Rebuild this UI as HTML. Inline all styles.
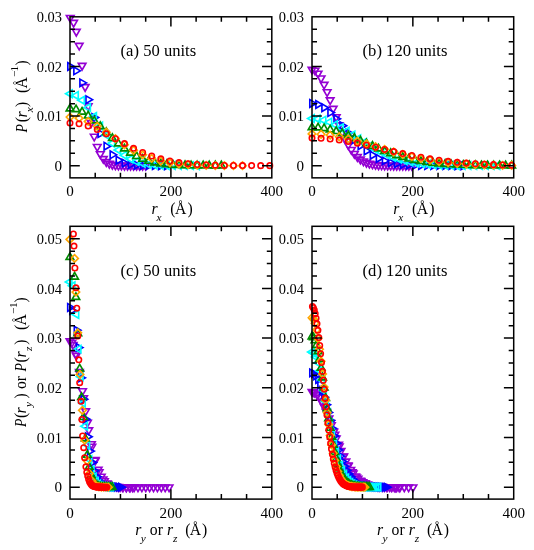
<!DOCTYPE html>
<html><head><meta charset="utf-8"><title>P(r) distributions</title>
<style>html,body{margin:0;padding:0;background:#fff}svg{display:block}</style></head>
<body>
<svg width="534" height="550" viewBox="0 0 534 550">
<rect width="534" height="550" fill="#fff"/>
<g fill="none" stroke="#9400d3" stroke-width="1.65" stroke-linejoin="miter"><polygon points="70.20,22.09 66.40,15.51 74.00,15.51"/><polygon points="73.60,26.99 69.80,20.41 77.40,20.41"/><polygon points="76.30,35.99 72.50,29.41 80.10,29.41"/><polygon points="79.20,49.89 75.40,43.31 83.00,43.31"/><polygon points="82.10,69.99 78.30,63.41 85.90,63.41"/><polygon points="85.14,91.28 81.34,84.69 88.94,84.69"/><polygon points="88.16,110.51 84.36,103.92 91.96,103.92"/><polygon points="91.19,127.27 87.39,120.69 94.99,120.69"/><polygon points="94.22,140.84 90.42,134.26 98.02,134.26"/><polygon points="97.24,151.10 93.44,144.51 101.04,144.51"/><polygon points="100.27,158.36 96.47,151.78 104.07,151.78"/><polygon points="103.30,163.19 99.50,156.61 107.10,156.61"/><polygon points="106.32,166.23 102.52,159.64 110.12,159.64"/><polygon points="109.35,168.02 105.55,161.44 113.15,161.44"/><polygon points="112.38,169.02 108.58,162.44 116.18,162.44"/><polygon points="115.41,169.55 111.61,162.97 119.20,162.97"/><polygon points="118.43,169.82 114.63,163.24 122.23,163.24"/><polygon points="121.46,169.94 117.66,163.36 125.26,163.36"/><polygon points="124.49,170.00 120.69,163.42 128.29,163.42"/><polygon points="127.51,170.02 123.71,163.44 131.31,163.44"/><polygon points="130.54,170.03 126.74,163.45 134.34,163.45"/><polygon points="133.57,170.04 129.77,163.45 137.37,163.45"/><polygon points="136.59,170.04 132.79,163.46 140.39,163.46"/><polygon points="139.62,170.04 135.82,163.46 143.42,163.46"/><polygon points="142.65,170.04 138.85,163.46 146.45,163.46"/><polygon points="145.68,170.04 141.88,163.46 149.48,163.46"/></g>
<g fill="none" stroke="#0000ff" stroke-width="1.65" stroke-linejoin="miter"><polygon points="74.39,66.45 67.81,62.65 67.81,70.25"/><polygon points="80.44,70.84 73.86,67.04 73.86,74.64"/><polygon points="86.50,82.87 79.91,79.07 79.91,86.67"/><polygon points="92.55,99.63 85.97,95.83 85.97,103.43"/><polygon points="98.60,117.55 92.02,113.75 92.02,121.35"/><polygon points="104.66,133.64 98.08,129.84 98.08,137.44"/><polygon points="110.71,146.19 104.13,142.39 104.13,149.99"/><polygon points="116.77,154.84 110.18,151.04 110.18,158.64"/><polygon points="122.82,160.17 116.24,156.37 116.24,163.97"/><polygon points="128.87,163.11 122.29,159.31 122.29,166.91"/><polygon points="134.93,164.57 128.35,160.77 128.35,168.37"/><polygon points="140.98,165.23 134.40,161.43 134.40,169.03"/><polygon points="147.04,165.50 140.45,161.70 140.45,169.30"/><polygon points="153.09,165.60 146.51,161.80 146.51,169.40"/><polygon points="159.14,165.64 152.56,161.84 152.56,169.44"/><polygon points="165.20,165.65 158.62,161.85 158.62,169.45"/><polygon points="171.25,165.65 164.67,161.85 164.67,169.45"/></g>
<g fill="none" stroke="#00ffff" stroke-width="1.65" stroke-linejoin="miter"><polygon points="65.61,93.73 72.19,89.93 72.19,97.53"/><polygon points="71.67,95.42 78.25,91.62 78.25,99.22"/><polygon points="77.72,100.26 84.30,96.46 84.30,104.06"/><polygon points="83.77,107.59 90.36,103.79 90.36,111.39"/><polygon points="89.83,116.49 96.41,112.69 96.41,120.29"/><polygon points="95.88,125.96 102.46,122.16 102.46,129.76"/><polygon points="101.94,135.10 108.52,131.30 108.52,138.90"/><polygon points="107.99,143.22 114.57,139.42 114.57,147.02"/><polygon points="114.04,149.95 120.63,146.15 120.63,153.75"/><polygon points="120.10,155.17 126.68,151.37 126.68,158.97"/><polygon points="126.15,158.98 132.73,155.18 132.73,162.78"/><polygon points="132.21,161.60 138.79,157.80 138.79,165.40"/><polygon points="138.26,163.31 144.84,159.51 144.84,167.11"/><polygon points="144.31,164.36 150.90,160.56 150.90,168.16"/><polygon points="150.37,164.97 156.95,161.17 156.95,168.77"/><polygon points="156.42,165.31 163.00,161.51 163.00,169.11"/><polygon points="162.48,165.49 169.06,161.69 169.06,169.29"/><polygon points="168.53,165.58 175.11,161.78 175.11,169.38"/><polygon points="174.58,165.62 181.17,161.82 181.17,169.42"/><polygon points="180.64,165.64 187.22,161.84 187.22,169.44"/><polygon points="186.69,165.64 193.27,161.84 193.27,169.44"/><polygon points="192.75,165.65 199.33,161.85 199.33,169.45"/></g>
<g fill="none" stroke="#008b00" stroke-width="1.65" stroke-linejoin="miter"><polygon points="70.00,104.22 66.20,110.80 73.80,110.80"/><polygon points="76.05,105.07 72.25,111.65 79.85,111.65"/><polygon points="82.11,107.53 78.31,114.12 85.91,114.12"/><polygon points="88.16,111.41 84.36,117.99 91.96,117.99"/><polygon points="94.22,116.36 90.42,122.94 98.02,122.94"/><polygon points="100.27,122.02 96.47,128.60 104.07,128.60"/><polygon points="106.32,127.97 102.52,134.55 110.12,134.55"/><polygon points="112.38,133.85 108.58,140.44 116.18,140.44"/><polygon points="118.43,139.36 114.63,145.94 122.23,145.94"/><polygon points="124.49,144.28 120.69,150.86 128.29,150.86"/><polygon points="130.54,148.48 126.74,155.06 134.34,155.06"/><polygon points="136.59,151.93 132.79,158.51 140.39,158.51"/><polygon points="142.65,154.64 138.85,161.23 146.45,161.23"/><polygon points="148.70,156.71 144.90,163.29 152.50,163.29"/><polygon points="154.76,158.22 150.96,164.80 158.56,164.80"/><polygon points="160.81,159.29 157.01,165.87 164.61,165.87"/><polygon points="166.86,160.02 163.06,166.60 170.66,166.60"/><polygon points="172.92,160.51 169.12,167.09 176.72,167.09"/><polygon points="178.97,160.81 175.17,167.40 182.77,167.40"/><polygon points="185.03,161.00 181.23,167.59 188.83,167.59"/><polygon points="191.08,161.12 187.28,167.70 194.88,167.70"/><polygon points="197.13,161.18 193.33,167.77 200.93,167.77"/><polygon points="203.19,161.22 199.39,167.80 206.99,167.80"/><polygon points="209.24,161.24 205.44,167.82 213.04,167.82"/><polygon points="215.30,161.25 211.50,167.83 219.10,167.83"/><polygon points="221.35,161.26 217.55,167.84 225.15,167.84"/></g>
<g fill="none" stroke="#ffa500" stroke-width="1.65" stroke-linejoin="miter"><polygon points="66.28,117.04 70.00,113.32 73.72,117.04 70.00,120.77"/><polygon points="75.36,118.17 79.08,114.45 82.81,118.17 79.08,121.89"/><polygon points="84.44,121.40 88.16,117.67 91.89,121.40 88.16,125.12"/><polygon points="93.52,126.29 97.24,122.57 100.97,126.29 97.24,130.02"/><polygon points="102.60,132.25 106.32,128.53 110.05,132.25 106.32,135.98"/><polygon points="111.68,138.61 115.41,134.89 119.13,138.61 115.41,142.33"/><polygon points="120.76,144.76 124.49,141.04 128.21,144.76 124.49,148.48"/><polygon points="129.84,150.25 133.57,146.53 137.29,150.25 133.57,153.98"/><polygon points="138.92,154.82 142.65,151.10 146.37,154.82 142.65,158.54"/><polygon points="148.01,158.38 151.73,154.66 155.45,158.38 151.73,162.11"/><polygon points="157.09,161.00 160.81,157.27 164.53,161.00 160.81,164.72"/><polygon points="166.17,162.81 169.89,159.08 173.62,162.81 169.89,166.53"/><polygon points="175.25,163.99 178.97,160.27 182.70,163.99 178.97,167.72"/><polygon points="184.33,164.73 188.05,161.00 191.78,164.73 188.05,168.45"/><polygon points="193.41,165.16 197.13,161.44 200.86,165.16 197.13,168.88"/><polygon points="202.49,165.40 206.22,161.68 209.94,165.40 206.22,169.13"/><polygon points="211.57,165.53 215.30,161.81 219.02,165.53 215.30,169.25"/><polygon points="220.65,165.59 224.38,161.87 228.10,165.59 224.38,169.32"/><polygon points="229.73,165.63 233.46,161.90 237.18,165.63 233.46,169.35"/><polygon points="238.82,165.64 242.54,161.92 246.26,165.64 242.54,169.36"/></g>
<g fill="none" stroke="#ff0000" stroke-width="1.65" stroke-linejoin="miter"><circle cx="70.00" cy="122.99" r="2.72" stroke-width="1.6"/><circle cx="79.08" cy="123.77" r="2.72" stroke-width="1.6"/><circle cx="88.16" cy="126.02" r="2.72" stroke-width="1.6"/><circle cx="97.24" cy="129.50" r="2.72" stroke-width="1.6"/><circle cx="106.32" cy="133.86" r="2.72" stroke-width="1.6"/><circle cx="115.41" cy="138.70" r="2.72" stroke-width="1.6"/><circle cx="124.49" cy="143.63" r="2.72" stroke-width="1.6"/><circle cx="133.57" cy="148.31" r="2.72" stroke-width="1.6"/><circle cx="142.65" cy="152.49" r="2.72" stroke-width="1.6"/><circle cx="151.73" cy="156.02" r="2.72" stroke-width="1.6"/><circle cx="160.81" cy="158.86" r="2.72" stroke-width="1.6"/><circle cx="169.89" cy="161.03" r="2.72" stroke-width="1.6"/><circle cx="178.97" cy="162.62" r="2.72" stroke-width="1.6"/><circle cx="188.05" cy="163.74" r="2.72" stroke-width="1.6"/><circle cx="197.13" cy="164.49" r="2.72" stroke-width="1.6"/><circle cx="206.22" cy="164.97" r="2.72" stroke-width="1.6"/><circle cx="215.30" cy="165.26" r="2.72" stroke-width="1.6"/><circle cx="224.38" cy="165.44" r="2.72" stroke-width="1.6"/><circle cx="233.46" cy="165.54" r="2.72" stroke-width="1.6"/><circle cx="242.54" cy="165.59" r="2.72" stroke-width="1.6"/><circle cx="251.62" cy="165.62" r="2.72" stroke-width="1.6"/><circle cx="260.70" cy="165.64" r="2.72" stroke-width="1.6"/><circle cx="269.78" cy="165.64" r="2.72" stroke-width="1.6"/></g>
<path d="M95.22,177.85v-5.0M95.22,16.80v5.0M120.45,177.85v-5.0M120.45,16.80v5.0M145.68,177.85v-5.0M145.68,16.80v5.0M170.90,177.85v-9.8M170.90,16.80v9.8M196.12,177.85v-5.0M196.12,16.80v5.0M221.35,177.85v-5.0M221.35,16.80v5.0M246.58,177.85v-5.0M246.58,16.80v5.0M70.00,165.65h9.8M271.80,165.65h-9.8M70.00,153.25h5.0M271.80,153.25h-5.0M70.00,140.85h5.0M271.80,140.85h-5.0M70.00,128.45h5.0M271.80,128.45h-5.0M70.00,116.05h9.8M271.80,116.05h-9.8M70.00,103.65h5.0M271.80,103.65h-5.0M70.00,91.25h5.0M271.80,91.25h-5.0M70.00,78.85h5.0M271.80,78.85h-5.0M70.00,66.45h9.8M271.80,66.45h-9.8M70.00,54.05h5.0M271.80,54.05h-5.0M70.00,41.65h5.0M271.80,41.65h-5.0M70.00,29.25h5.0M271.80,29.25h-5.0" stroke="#000" stroke-width="1.5" fill="none"/>
<rect x="70.00" y="16.80" width="201.80" height="161.05" fill="none" stroke="#000" stroke-width="1.5"/>
<g font-family="'Liberation Serif', serif" font-size="15.1" fill="#000">
<text x="70.00" y="196.25" text-anchor="middle">0</text>
<text x="170.90" y="196.25" text-anchor="middle">200</text>
<text x="271.80" y="196.25" text-anchor="middle">400</text>
<text x="62.00" y="170.95" text-anchor="end">0</text>
<text x="62.00" y="121.35" text-anchor="end" textLength="25.3" lengthAdjust="spacingAndGlyphs">0.01</text>
<text x="62.00" y="71.75" text-anchor="end" textLength="25.3" lengthAdjust="spacingAndGlyphs">0.02</text>
<text x="62.00" y="22.15" text-anchor="end" textLength="25.3" lengthAdjust="spacingAndGlyphs">0.03</text>
</g>
<g fill="none" stroke="#9400d3" stroke-width="1.65" stroke-linejoin="miter"><polygon points="312.00,73.81 308.20,67.23 315.80,67.23"/><polygon points="315.03,74.83 311.23,68.25 318.83,68.25"/><polygon points="318.05,77.82 314.25,71.24 321.85,71.24"/><polygon points="321.08,82.60 317.28,76.02 324.88,76.02"/><polygon points="324.10,88.88 320.30,82.30 327.90,82.30"/><polygon points="327.13,96.29 323.33,89.71 330.93,89.71"/><polygon points="330.15,104.44 326.35,97.86 333.95,97.86"/><polygon points="333.18,112.91 329.38,106.33 336.98,106.33"/><polygon points="336.20,121.34 332.40,114.76 340.00,114.76"/><polygon points="339.23,129.40 335.43,122.82 343.03,122.82"/><polygon points="342.25,136.84 338.45,130.26 346.06,130.26"/><polygon points="345.28,143.49 341.48,136.90 349.08,136.90"/><polygon points="348.31,149.25 344.51,142.67 352.11,142.67"/><polygon points="351.33,154.11 347.53,147.52 355.13,147.52"/><polygon points="354.36,158.08 350.56,151.50 358.16,151.50"/><polygon points="357.38,161.26 353.58,154.68 361.18,154.68"/><polygon points="360.41,163.73 356.61,157.14 364.21,157.14"/><polygon points="363.43,165.59 359.63,159.01 367.23,159.01"/><polygon points="366.46,166.98 362.66,160.39 370.26,160.39"/><polygon points="369.48,167.97 365.68,161.39 373.28,161.39"/><polygon points="372.51,168.67 368.71,162.09 376.31,162.09"/><polygon points="375.54,169.16 371.74,162.57 379.34,162.57"/><polygon points="378.56,169.48 374.76,162.90 382.36,162.90"/><polygon points="381.59,169.69 377.79,163.11 385.39,163.11"/><polygon points="384.61,169.83 380.81,163.25 388.41,163.25"/><polygon points="387.64,169.91 383.84,163.33 391.44,163.33"/><polygon points="390.66,169.97 386.86,163.38 394.46,163.38"/><polygon points="393.69,170.00 389.89,163.41 397.49,163.41"/><polygon points="396.71,170.01 392.91,163.43 400.51,163.43"/><polygon points="399.74,170.03 395.94,163.44 403.54,163.44"/><polygon points="402.76,170.03 398.96,163.45 406.56,163.45"/><polygon points="405.79,170.03 401.99,163.45 409.59,163.45"/><polygon points="408.82,170.04 405.02,163.45 412.62,163.45"/><polygon points="411.84,170.04 408.04,163.46 415.64,163.46"/></g>
<g fill="none" stroke="#0000ff" stroke-width="1.65" stroke-linejoin="miter"><polygon points="316.39,103.40 309.81,99.60 309.81,107.20"/><polygon points="322.44,104.50 315.86,100.70 315.86,108.30"/><polygon points="328.49,107.68 321.91,103.88 321.91,111.48"/><polygon points="334.54,112.62 327.96,108.82 327.96,116.42"/><polygon points="340.59,118.84 334.01,115.04 334.01,122.64"/><polygon points="346.64,125.77 340.06,121.97 340.06,129.57"/><polygon points="352.69,132.87 346.11,129.07 346.11,136.67"/><polygon points="358.74,139.65 352.16,135.85 352.16,143.45"/><polygon points="364.80,145.74 358.21,141.94 358.21,149.54"/><polygon points="370.85,150.94 364.27,147.14 364.27,154.74"/><polygon points="376.90,155.17 370.32,151.37 370.32,158.97"/><polygon points="382.95,158.44 376.37,154.64 376.37,162.24"/><polygon points="389.00,160.86 382.42,157.06 382.42,164.66"/><polygon points="395.05,162.58 388.47,158.78 388.47,166.38"/><polygon points="401.10,163.75 394.52,159.95 394.52,167.55"/><polygon points="407.15,164.52 400.57,160.72 400.57,168.32"/><polygon points="413.20,165.00 406.62,161.20 406.62,168.80"/><polygon points="419.25,165.29 412.67,161.49 412.67,169.09"/><polygon points="425.31,165.46 418.72,161.66 418.72,169.26"/><polygon points="431.36,165.55 424.78,161.75 424.78,169.35"/><polygon points="437.41,165.60 430.83,161.80 430.83,169.40"/><polygon points="443.46,165.63 436.88,161.83 436.88,169.43"/><polygon points="449.51,165.64 442.93,161.84 442.93,169.44"/><polygon points="455.56,165.64 448.98,161.84 448.98,169.44"/><polygon points="461.61,165.65 455.03,161.85 455.03,169.45"/><polygon points="467.66,165.65 461.08,161.85 461.08,169.45"/></g>
<g fill="none" stroke="#00ffff" stroke-width="1.65" stroke-linejoin="miter"><polygon points="307.61,118.53 314.19,114.73 314.19,122.33"/><polygon points="313.41,118.94 319.99,115.14 319.99,122.74"/><polygon points="319.21,120.16 325.79,116.36 325.79,123.96"/><polygon points="325.01,122.12 331.59,118.32 331.59,125.92"/><polygon points="330.81,124.72 337.39,120.92 337.39,128.52"/><polygon points="336.61,127.83 343.19,124.03 343.19,131.63"/><polygon points="342.41,131.32 348.99,127.52 348.99,135.12"/><polygon points="348.20,135.03 354.79,131.23 354.79,138.83"/><polygon points="354.00,138.82 360.58,135.02 360.58,142.62"/><polygon points="359.80,142.54 366.38,138.74 366.38,146.34"/><polygon points="365.60,146.10 372.18,142.30 372.18,149.90"/><polygon points="371.40,149.40 377.98,145.60 377.98,153.20"/><polygon points="377.20,152.37 383.78,148.57 383.78,156.17"/><polygon points="383.00,155.00 389.58,151.20 389.58,158.80"/><polygon points="388.80,157.25 395.38,153.45 395.38,161.05"/><polygon points="394.60,159.14 401.18,155.34 401.18,162.94"/><polygon points="400.39,160.69 406.98,156.89 406.98,164.49"/><polygon points="406.19,161.94 412.77,158.14 412.77,165.74"/><polygon points="411.99,162.92 418.57,159.12 418.57,166.72"/><polygon points="417.79,163.68 424.37,159.88 424.37,167.48"/><polygon points="423.59,164.25 430.17,160.45 430.17,168.05"/><polygon points="429.39,164.68 435.97,160.88 435.97,168.48"/><polygon points="435.19,164.98 441.77,161.18 441.77,168.78"/><polygon points="440.99,165.20 447.57,161.40 447.57,169.00"/><polygon points="446.79,165.35 453.37,161.55 453.37,169.15"/><polygon points="452.58,165.46 459.17,161.66 459.17,169.26"/><polygon points="458.38,165.53 464.96,161.73 464.96,169.33"/><polygon points="464.18,165.57 470.76,161.77 470.76,169.37"/><polygon points="469.98,165.60 476.56,161.80 476.56,169.40"/><polygon points="475.78,165.62 482.36,161.82 482.36,169.42"/><polygon points="481.58,165.63 488.16,161.83 488.16,169.43"/><polygon points="487.38,165.64 493.96,161.84 493.96,169.44"/><polygon points="493.18,165.64 499.76,161.84 499.76,169.44"/></g>
<g fill="none" stroke="#008b00" stroke-width="1.65" stroke-linejoin="miter"><polygon points="312.00,123.07 308.20,129.65 315.80,129.65"/><polygon points="318.05,123.33 314.25,129.91 321.85,129.91"/><polygon points="324.10,124.08 320.30,130.66 327.90,130.66"/><polygon points="330.15,125.31 326.35,131.89 333.95,131.89"/><polygon points="336.20,126.96 332.40,133.54 340.00,133.54"/><polygon points="342.25,128.96 338.45,135.55 346.06,135.55"/><polygon points="348.31,131.26 344.51,137.84 352.11,137.84"/><polygon points="354.36,133.77 350.56,140.35 358.16,140.35"/><polygon points="360.41,136.40 356.61,142.98 364.21,142.98"/><polygon points="366.46,139.08 362.66,145.66 370.26,145.66"/><polygon points="372.51,141.73 368.71,148.31 376.31,148.31"/><polygon points="378.56,144.30 374.76,150.88 382.36,150.88"/><polygon points="384.61,146.72 380.81,153.30 388.41,153.30"/><polygon points="390.66,148.96 386.86,155.55 394.46,155.55"/><polygon points="396.71,151.00 392.91,157.58 400.51,157.58"/><polygon points="402.76,152.81 398.96,159.40 406.56,159.40"/><polygon points="408.82,154.40 405.02,160.98 412.62,160.98"/><polygon points="414.87,155.76 411.07,162.34 418.67,162.34"/><polygon points="420.92,156.91 417.12,163.49 424.72,163.49"/><polygon points="426.97,157.87 423.17,164.45 430.77,164.45"/><polygon points="433.02,158.65 429.22,165.23 436.82,165.23"/><polygon points="439.07,159.28 435.27,165.86 442.87,165.86"/><polygon points="445.12,159.77 441.32,166.36 448.92,166.36"/><polygon points="451.17,160.16 447.37,166.74 454.97,166.74"/><polygon points="457.22,160.46 453.42,167.04 461.02,167.04"/><polygon points="463.28,160.68 459.48,167.27 467.08,167.27"/><polygon points="469.33,160.85 465.53,167.43 473.13,167.43"/><polygon points="475.38,160.97 471.58,167.56 479.18,167.56"/><polygon points="481.43,161.06 477.63,167.64 485.23,167.64"/><polygon points="487.48,161.13 483.68,167.71 491.28,167.71"/><polygon points="493.53,161.17 489.73,167.75 497.33,167.75"/><polygon points="499.58,161.20 495.78,167.78 503.38,167.78"/><polygon points="505.63,161.22 501.83,167.80 509.43,167.80"/><polygon points="511.68,161.24 507.88,167.82 515.48,167.82"/></g>
<g fill="none" stroke="#ffa500" stroke-width="1.65" stroke-linejoin="miter"><polygon points="308.28,133.91 312.00,130.18 315.72,133.91 312.00,137.63"/><polygon points="317.35,134.24 321.08,130.51 324.80,134.24 321.08,137.96"/><polygon points="326.43,135.20 330.15,131.48 333.88,135.20 330.15,138.93"/><polygon points="335.51,136.75 339.23,133.02 342.95,136.75 339.23,140.47"/><polygon points="344.58,138.78 348.31,135.06 352.03,138.78 348.31,142.51"/><polygon points="353.66,141.19 357.38,137.46 361.11,141.19 357.38,144.91"/><polygon points="362.74,143.84 366.46,140.11 370.18,143.84 366.46,147.56"/><polygon points="371.81,146.60 375.54,142.88 379.26,146.60 375.54,150.33"/><polygon points="380.89,149.36 384.61,145.63 388.34,149.36 384.61,153.08"/><polygon points="389.96,152.00 393.69,148.28 397.41,152.00 393.69,155.73"/><polygon points="399.04,154.46 402.76,150.73 406.49,154.46 402.76,158.18"/><polygon points="408.12,156.66 411.84,152.93 415.57,156.66 411.84,160.38"/><polygon points="417.19,158.57 420.92,154.85 424.64,158.57 420.92,162.30"/><polygon points="426.27,160.20 429.99,156.47 433.72,160.20 429.99,163.92"/><polygon points="435.35,161.53 439.07,157.81 442.80,161.53 439.07,165.26"/><polygon points="444.42,162.61 448.15,158.88 451.87,162.61 448.15,166.33"/><polygon points="453.50,163.45 457.22,159.72 460.95,163.45 457.22,167.17"/><polygon points="462.58,164.09 466.30,160.36 470.02,164.09 466.30,167.81"/><polygon points="471.65,164.57 475.38,160.84 479.10,164.57 475.38,168.29"/><polygon points="480.73,164.91 484.45,161.19 488.18,164.91 484.45,168.64"/><polygon points="489.81,165.16 493.53,161.44 497.25,165.16 493.53,168.88"/><polygon points="498.88,165.33 502.61,161.61 506.33,165.33 502.61,169.05"/><polygon points="507.96,165.45 511.68,161.72 515.41,165.45 511.68,169.17"/></g>
<g fill="none" stroke="#ff0000" stroke-width="1.65" stroke-linejoin="miter"><circle cx="312.00" cy="138.12" r="2.72" stroke-width="1.6"/><circle cx="321.08" cy="138.35" r="2.72" stroke-width="1.6"/><circle cx="330.15" cy="139.02" r="2.72" stroke-width="1.6"/><circle cx="339.23" cy="140.10" r="2.72" stroke-width="1.6"/><circle cx="348.31" cy="141.53" r="2.72" stroke-width="1.6"/><circle cx="357.38" cy="143.26" r="2.72" stroke-width="1.6"/><circle cx="366.46" cy="145.21" r="2.72" stroke-width="1.6"/><circle cx="375.54" cy="147.29" r="2.72" stroke-width="1.6"/><circle cx="384.61" cy="149.43" r="2.72" stroke-width="1.6"/><circle cx="393.69" cy="151.56" r="2.72" stroke-width="1.6"/><circle cx="402.76" cy="153.60" r="2.72" stroke-width="1.6"/><circle cx="411.84" cy="155.52" r="2.72" stroke-width="1.6"/><circle cx="420.92" cy="157.28" r="2.72" stroke-width="1.6"/><circle cx="429.99" cy="158.84" r="2.72" stroke-width="1.6"/><circle cx="439.07" cy="160.20" r="2.72" stroke-width="1.6"/><circle cx="448.15" cy="161.36" r="2.72" stroke-width="1.6"/><circle cx="457.22" cy="162.33" r="2.72" stroke-width="1.6"/><circle cx="466.30" cy="163.12" r="2.72" stroke-width="1.6"/><circle cx="475.38" cy="163.76" r="2.72" stroke-width="1.6"/><circle cx="484.45" cy="164.26" r="2.72" stroke-width="1.6"/><circle cx="493.53" cy="164.64" r="2.72" stroke-width="1.6"/><circle cx="502.61" cy="164.93" r="2.72" stroke-width="1.6"/><circle cx="511.68" cy="165.15" r="2.72" stroke-width="1.6"/></g>
<path d="M337.21,177.85v-5.0M337.21,16.80v5.0M362.43,177.85v-5.0M362.43,16.80v5.0M387.64,177.85v-5.0M387.64,16.80v5.0M412.85,177.85v-9.8M412.85,16.80v9.8M438.06,177.85v-5.0M438.06,16.80v5.0M463.28,177.85v-5.0M463.28,16.80v5.0M488.49,177.85v-5.0M488.49,16.80v5.0M312.00,165.65h9.8M513.70,165.65h-9.8M312.00,153.25h5.0M513.70,153.25h-5.0M312.00,140.85h5.0M513.70,140.85h-5.0M312.00,128.45h5.0M513.70,128.45h-5.0M312.00,116.05h9.8M513.70,116.05h-9.8M312.00,103.65h5.0M513.70,103.65h-5.0M312.00,91.25h5.0M513.70,91.25h-5.0M312.00,78.85h5.0M513.70,78.85h-5.0M312.00,66.45h9.8M513.70,66.45h-9.8M312.00,54.05h5.0M513.70,54.05h-5.0M312.00,41.65h5.0M513.70,41.65h-5.0M312.00,29.25h5.0M513.70,29.25h-5.0" stroke="#000" stroke-width="1.5" fill="none"/>
<rect x="312.00" y="16.80" width="201.70" height="161.05" fill="none" stroke="#000" stroke-width="1.5"/>
<g font-family="'Liberation Serif', serif" font-size="15.1" fill="#000">
<text x="312.00" y="196.25" text-anchor="middle">0</text>
<text x="412.85" y="196.25" text-anchor="middle">200</text>
<text x="513.70" y="196.25" text-anchor="middle">400</text>
<text x="304.00" y="170.95" text-anchor="end">0</text>
<text x="304.00" y="121.35" text-anchor="end" textLength="25.3" lengthAdjust="spacingAndGlyphs">0.01</text>
<text x="304.00" y="71.75" text-anchor="end" textLength="25.3" lengthAdjust="spacingAndGlyphs">0.02</text>
<text x="304.00" y="22.15" text-anchor="end" textLength="25.3" lengthAdjust="spacingAndGlyphs">0.03</text>
</g>
<g fill="none" stroke="#9400d3" stroke-width="1.65" stroke-linejoin="miter"><polygon points="71.94,346.94 68.14,340.36 75.74,340.36"/><polygon points="75.83,358.12 72.03,351.54 79.63,351.54"/><polygon points="79.71,377.96 75.91,371.38 83.51,371.38"/><polygon points="83.60,402.33 79.80,395.75 87.40,395.75"/><polygon points="87.48,426.89 83.68,420.31 91.28,420.31"/><polygon points="91.37,448.31 87.57,441.73 95.17,441.73"/><polygon points="95.25,464.87 91.45,458.29 99.05,458.29"/><polygon points="99.13,476.36 95.33,469.78 102.93,469.78"/><polygon points="103.02,483.57 99.22,476.98 106.82,476.98"/><polygon points="106.90,487.67 103.10,481.09 110.70,481.09"/><polygon points="110.79,489.81 106.99,483.23 114.59,483.23"/><polygon points="114.67,490.83 110.87,484.24 118.47,484.24"/><polygon points="118.56,491.27 114.76,484.68 122.36,484.68"/><polygon points="122.44,491.44 118.64,484.86 126.24,484.86"/><polygon points="126.33,491.51 122.53,484.93 130.13,484.93"/><polygon points="130.21,491.53 126.41,484.95 134.01,484.95"/><polygon points="134.10,491.54 130.30,484.95 137.90,484.95"/><polygon points="137.98,491.54 134.18,484.96 141.78,484.96"/><polygon points="141.87,491.54 138.07,484.96 145.67,484.96"/><polygon points="145.75,491.54 141.95,484.96 149.55,484.96"/><polygon points="149.64,491.54 145.84,484.96 153.44,484.96"/><polygon points="153.52,491.54 149.72,484.96 157.32,484.96"/><polygon points="157.40,491.54 153.60,484.96 161.20,484.96"/><polygon points="161.29,491.54 157.49,484.96 165.09,484.96"/><polygon points="165.17,491.54 161.37,484.96 168.97,484.96"/><polygon points="169.06,491.54 165.26,484.96 172.86,484.96"/></g>
<g fill="none" stroke="#9400d3" stroke-width="1.65" stroke-linejoin="miter"><polygon points="70.00,345.48 66.20,338.90 73.80,338.90"/><polygon points="73.13,349.24 69.33,342.66 76.93,342.66"/><polygon points="76.26,359.96 72.46,353.37 80.06,353.37"/><polygon points="79.38,376.05 75.58,369.47 83.18,369.47"/><polygon points="82.51,395.33 78.71,388.75 86.31,388.75"/><polygon points="85.64,415.47 81.84,408.89 89.44,408.89"/><polygon points="88.77,434.45 84.97,427.87 92.57,427.87"/><polygon points="91.90,450.87 88.10,444.29 95.70,444.29"/><polygon points="95.02,464.05 91.22,457.46 98.82,457.46"/><polygon points="98.15,473.90 94.35,467.31 101.95,467.31"/><polygon points="101.28,480.79 97.48,474.21 105.08,474.21"/><polygon points="104.41,485.33 100.61,478.74 108.21,478.74"/><polygon points="107.53,488.13 103.73,481.55 111.33,481.55"/><polygon points="110.66,489.76 106.86,483.18 114.46,483.18"/><polygon points="113.79,490.66 109.99,484.08 117.59,484.08"/><polygon points="116.92,491.13 113.12,484.54 120.72,484.54"/><polygon points="120.05,491.35 116.25,484.77 123.85,484.77"/><polygon points="123.17,491.46 119.37,484.88 126.97,484.88"/><polygon points="126.30,491.51 122.50,484.92 130.10,484.92"/><polygon points="129.43,491.53 125.63,484.94 133.23,484.94"/><polygon points="132.56,491.53 128.76,484.95 136.36,484.95"/></g>
<g fill="none" stroke="#0000ff" stroke-width="1.65" stroke-linejoin="miter"><polygon points="74.29,307.40 67.71,303.60 67.71,311.20"/><polygon points="76.39,310.50 69.81,306.70 69.81,314.30"/><polygon points="80.89,330.30 74.31,326.50 74.31,334.10"/><polygon points="82.99,347.60 76.41,343.80 76.41,351.40"/><polygon points="85.49,377.87 78.91,374.07 78.91,381.67"/><polygon points="87.71,399.27 81.12,395.47 81.12,403.07"/><polygon points="89.93,419.23 83.34,415.43 83.34,423.03"/><polygon points="92.15,436.69 85.56,432.89 85.56,440.49"/><polygon points="94.37,451.12 87.78,447.32 87.78,454.92"/><polygon points="96.59,462.43 90.00,458.63 90.00,466.23"/><polygon points="98.81,470.84 92.22,467.04 92.22,474.64"/><polygon points="101.03,476.81 94.44,473.01 94.44,480.61"/><polygon points="103.25,480.85 96.66,477.05 96.66,484.65"/><polygon points="105.47,483.46 98.88,479.66 98.88,487.26"/><polygon points="107.68,485.07 101.10,481.27 101.10,488.87"/><polygon points="109.90,486.03 103.32,482.23 103.32,489.83"/><polygon points="112.12,486.57 105.54,482.77 105.54,490.37"/><polygon points="114.34,486.86 107.76,483.06 107.76,490.66"/><polygon points="116.56,487.01 109.98,483.21 109.98,490.81"/><polygon points="118.78,487.09 112.20,483.29 112.20,490.89"/><polygon points="121.00,487.12 114.42,483.32 114.42,490.92"/><polygon points="123.22,487.14 116.64,483.34 116.64,490.94"/><polygon points="125.44,487.14 118.86,483.34 118.86,490.94"/></g>
<g fill="none" stroke="#00ffff" stroke-width="1.65" stroke-linejoin="miter"><polygon points="65.31,282.00 71.89,278.20 71.89,285.80"/><polygon points="68.31,285.80 74.89,282.00 74.89,289.60"/><polygon points="72.11,314.40 78.69,310.60 78.69,318.20"/><polygon points="74.29,349.11 80.87,345.31 80.87,352.91"/><polygon points="76.46,376.69 83.04,372.89 83.04,380.49"/><polygon points="78.63,403.04 85.21,399.24 85.21,406.84"/><polygon points="80.80,426.19 87.38,422.39 87.38,429.99"/><polygon points="82.97,445.11 89.55,441.31 89.55,448.91"/><polygon points="85.14,459.56 91.72,455.76 91.72,463.36"/><polygon points="87.31,469.92 93.89,466.12 93.89,473.72"/><polygon points="89.47,476.91 96.06,473.11 96.06,480.71"/><polygon points="91.64,481.36 98.23,477.56 98.23,485.16"/><polygon points="93.81,484.03 100.40,480.23 100.40,487.83"/><polygon points="95.98,485.55 102.56,481.75 102.56,489.35"/><polygon points="98.15,486.37 104.73,482.57 104.73,490.17"/><polygon points="100.32,486.79 106.90,482.99 106.90,490.59"/><polygon points="102.49,486.99 109.07,483.19 109.07,490.79"/><polygon points="104.66,487.08 111.24,483.28 111.24,490.88"/><polygon points="106.83,487.12 113.41,483.32 113.41,490.92"/></g>
<g fill="none" stroke="#008b00" stroke-width="1.65" stroke-linejoin="miter"><polygon points="69.90,252.81 66.10,259.39 73.70,259.39"/><polygon points="74.60,272.51 70.80,279.09 78.40,279.09"/><polygon points="75.90,292.81 72.10,299.39 79.70,299.39"/><polygon points="77.80,329.01 74.00,335.59 81.60,335.59"/><polygon points="79.70,364.31 75.90,370.89 83.50,370.89"/><polygon points="81.60,392.91 77.80,399.49 85.40,399.49"/><polygon points="83.42,412.88 79.62,419.46 87.22,419.46"/><polygon points="85.34,434.23 81.54,440.81 89.14,440.81"/><polygon points="87.25,450.66 83.45,457.24 91.05,457.24"/><polygon points="89.17,462.54 85.37,469.12 92.97,469.12"/><polygon points="91.09,470.62 87.29,477.20 94.89,477.20"/><polygon points="93.01,475.82 89.21,482.40 96.81,482.40"/><polygon points="94.92,478.98 91.12,485.56 98.72,485.56"/><polygon points="96.84,480.80 93.04,487.38 100.64,487.38"/><polygon points="98.76,481.79 94.96,488.38 102.56,488.38"/><polygon points="100.67,482.31 96.87,488.89 104.47,488.89"/><polygon points="102.59,482.56 98.79,489.14 106.39,489.14"/><polygon points="104.51,482.67 100.71,489.26 108.31,489.26"/><polygon points="106.42,482.73 102.62,489.31 110.22,489.31"/><polygon points="108.34,482.75 104.54,489.33 112.14,489.33"/><polygon points="110.26,482.76 106.46,489.34 114.06,489.34"/><polygon points="112.18,482.76 108.38,489.34 115.98,489.34"/></g>
<g fill="none" stroke="#ffa500" stroke-width="1.65" stroke-linejoin="miter"><polygon points="66.18,239.40 69.90,235.68 73.62,239.40 69.90,243.12"/><polygon points="70.88,258.40 74.60,254.68 78.32,258.40 74.60,262.12"/><polygon points="72.18,292.10 75.90,288.38 79.62,292.10 75.90,295.82"/><polygon points="74.08,332.80 77.80,329.08 81.52,332.80 77.80,336.52"/><polygon points="76.28,374.40 80.00,370.68 83.72,374.40 80.00,378.12"/><polygon points="78.64,410.30 82.36,406.58 86.08,410.30 82.36,414.02"/><polygon points="81.01,440.15 84.73,436.42 88.46,440.15 84.73,443.87"/><polygon points="83.38,460.77 87.10,457.05 90.83,460.77 87.10,464.49"/><polygon points="85.75,473.57 89.47,469.84 93.20,473.57 89.47,477.29"/><polygon points="88.12,480.73 91.84,477.01 95.57,480.73 91.84,484.46"/><polygon points="90.49,484.37 94.22,480.64 97.94,484.37 94.22,488.09"/><polygon points="92.86,486.04 96.59,482.32 100.31,486.04 96.59,489.77"/><polygon points="95.23,486.75 98.96,483.02 102.68,486.75 98.96,490.47"/><polygon points="97.61,487.01 101.33,483.29 105.05,487.01 101.33,490.74"/><polygon points="99.98,487.11 103.70,483.38 107.42,487.11 103.70,490.83"/><polygon points="102.35,487.14 106.07,483.41 109.80,487.14 106.07,490.86"/><polygon points="104.72,487.15 108.44,483.42 112.17,487.15 108.44,490.87"/></g>
<g fill="none" stroke="#ff0000" stroke-width="1.65" stroke-linejoin="miter"><circle cx="73.40" cy="233.90" r="2.72" stroke-width="1.6"/><circle cx="74.00" cy="246.10" r="2.72" stroke-width="1.6"/><circle cx="74.90" cy="268.00" r="2.72" stroke-width="1.6"/><circle cx="75.90" cy="287.80" r="2.72" stroke-width="1.6"/><circle cx="76.80" cy="308.20" r="2.72" stroke-width="1.6"/><circle cx="77.80" cy="336.00" r="2.72" stroke-width="1.6"/><circle cx="78.80" cy="359.80" r="2.72" stroke-width="1.6"/><circle cx="79.70" cy="382.70" r="2.72" stroke-width="1.6"/><circle cx="81.00" cy="401.30" r="2.72" stroke-width="1.6"/><circle cx="81.90" cy="419.50" r="2.72" stroke-width="1.6"/><circle cx="82.60" cy="435.90" r="2.72" stroke-width="1.6"/><circle cx="83.70" cy="447.70" r="2.72" stroke-width="1.6"/><circle cx="84.60" cy="457.70" r="2.72" stroke-width="1.6"/><circle cx="85.90" cy="466.80" r="2.72" stroke-width="1.6"/><circle cx="86.80" cy="472.30" r="2.72" stroke-width="1.6"/><circle cx="87.71" cy="476.08" r="2.72" stroke-width="1.6"/><circle cx="88.62" cy="479.27" r="2.72" stroke-width="1.6"/><circle cx="89.52" cy="481.64" r="2.72" stroke-width="1.6"/><circle cx="90.43" cy="483.36" r="2.72" stroke-width="1.6"/><circle cx="91.34" cy="484.59" r="2.72" stroke-width="1.6"/><circle cx="92.25" cy="485.45" r="2.72" stroke-width="1.6"/><circle cx="93.16" cy="486.04" r="2.72" stroke-width="1.6"/><circle cx="94.06" cy="486.43" r="2.72" stroke-width="1.6"/><circle cx="94.97" cy="486.70" r="2.72" stroke-width="1.6"/><circle cx="95.88" cy="486.87" r="2.72" stroke-width="1.6"/><circle cx="96.79" cy="486.98" r="2.72" stroke-width="1.6"/><circle cx="97.70" cy="487.05" r="2.72" stroke-width="1.6"/><circle cx="98.61" cy="487.09" r="2.72" stroke-width="1.6"/><circle cx="99.51" cy="487.11" r="2.72" stroke-width="1.6"/><circle cx="100.42" cy="487.13" r="2.72" stroke-width="1.6"/><circle cx="101.33" cy="487.14" r="2.72" stroke-width="1.6"/><circle cx="102.24" cy="487.14" r="2.72" stroke-width="1.6"/><circle cx="103.15" cy="487.15" r="2.72" stroke-width="1.6"/><circle cx="104.05" cy="487.15" r="2.72" stroke-width="1.6"/><circle cx="104.96" cy="487.15" r="2.72" stroke-width="1.6"/><circle cx="105.87" cy="487.15" r="2.72" stroke-width="1.6"/><circle cx="106.78" cy="487.15" r="2.72" stroke-width="1.6"/></g>
<path d="M95.22,499.10v-5.0M95.22,226.30v5.0M120.45,499.10v-5.0M120.45,226.30v5.0M145.68,499.10v-5.0M145.68,226.30v5.0M170.90,499.10v-9.8M170.90,226.30v9.8M196.12,499.10v-5.0M196.12,226.30v5.0M221.35,499.10v-5.0M221.35,226.30v5.0M246.58,499.10v-5.0M246.58,226.30v5.0M70.00,487.15h9.8M271.80,487.15h-9.8M70.00,474.73h5.0M271.80,474.73h-5.0M70.00,462.31h5.0M271.80,462.31h-5.0M70.00,449.89h5.0M271.80,449.89h-5.0M70.00,437.47h9.8M271.80,437.47h-9.8M70.00,425.05h5.0M271.80,425.05h-5.0M70.00,412.63h5.0M271.80,412.63h-5.0M70.00,400.21h5.0M271.80,400.21h-5.0M70.00,387.79h9.8M271.80,387.79h-9.8M70.00,375.37h5.0M271.80,375.37h-5.0M70.00,362.95h5.0M271.80,362.95h-5.0M70.00,350.53h5.0M271.80,350.53h-5.0M70.00,338.11h9.8M271.80,338.11h-9.8M70.00,325.69h5.0M271.80,325.69h-5.0M70.00,313.27h5.0M271.80,313.27h-5.0M70.00,300.85h5.0M271.80,300.85h-5.0M70.00,288.43h9.8M271.80,288.43h-9.8M70.00,276.01h5.0M271.80,276.01h-5.0M70.00,263.59h5.0M271.80,263.59h-5.0M70.00,251.17h5.0M271.80,251.17h-5.0M70.00,238.75h9.8M271.80,238.75h-9.8" stroke="#000" stroke-width="1.5" fill="none"/>
<rect x="70.00" y="226.30" width="201.80" height="272.80" fill="none" stroke="#000" stroke-width="1.5"/>
<g font-family="'Liberation Serif', serif" font-size="15.1" fill="#000">
<text x="70.00" y="517.50" text-anchor="middle">0</text>
<text x="170.90" y="517.50" text-anchor="middle">200</text>
<text x="271.80" y="517.50" text-anchor="middle">400</text>
<text x="62.00" y="492.45" text-anchor="end">0</text>
<text x="62.00" y="442.77" text-anchor="end" textLength="25.3" lengthAdjust="spacingAndGlyphs">0.01</text>
<text x="62.00" y="393.09" text-anchor="end" textLength="25.3" lengthAdjust="spacingAndGlyphs">0.02</text>
<text x="62.00" y="343.41" text-anchor="end" textLength="25.3" lengthAdjust="spacingAndGlyphs">0.03</text>
<text x="62.00" y="293.73" text-anchor="end" textLength="25.3" lengthAdjust="spacingAndGlyphs">0.04</text>
<text x="62.00" y="244.05" text-anchor="end" textLength="25.3" lengthAdjust="spacingAndGlyphs">0.05</text>
</g>
<g fill="none" stroke="#9400d3" stroke-width="1.65" stroke-linejoin="miter"><polygon points="313.21,396.31 309.41,389.73 317.01,389.73"/><polygon points="317.55,399.44 313.75,392.85 321.35,392.85"/><polygon points="321.88,406.19 318.08,399.61 325.68,399.61"/><polygon points="326.22,415.77 322.42,409.19 330.02,409.19"/><polygon points="330.56,427.09 326.76,420.51 334.36,420.51"/><polygon points="334.89,439.02 331.09,432.44 338.69,432.44"/><polygon points="339.23,450.53 335.43,443.95 343.03,443.95"/><polygon points="343.57,460.87 339.77,454.28 347.37,454.28"/><polygon points="347.90,469.56 344.10,462.98 351.70,462.98"/><polygon points="352.24,476.45 348.44,469.86 356.04,469.86"/><polygon points="356.58,481.61 352.78,475.03 360.38,475.03"/><polygon points="360.91,485.28 357.11,478.70 364.71,478.70"/><polygon points="365.25,487.76 361.45,481.18 369.05,481.18"/><polygon points="369.59,489.35 365.79,482.77 373.39,482.77"/><polygon points="373.92,490.33 370.12,483.74 377.72,483.74"/><polygon points="378.26,490.89 374.46,484.31 382.06,484.31"/><polygon points="382.60,491.21 378.80,484.63 386.40,484.63"/><polygon points="386.93,491.38 383.13,484.80 390.73,484.80"/><polygon points="391.27,491.46 387.47,484.88 395.07,484.88"/><polygon points="395.60,491.50 391.80,484.92 399.40,484.92"/><polygon points="399.94,491.52 396.14,484.94 403.74,484.94"/><polygon points="404.28,491.53 400.48,484.95 408.08,484.95"/><polygon points="408.61,491.54 404.81,484.95 412.41,484.95"/><polygon points="412.95,491.54 409.15,484.96 416.75,484.96"/></g>
<g fill="none" stroke="#9400d3" stroke-width="1.65" stroke-linejoin="miter"><polygon points="312.00,396.15 308.20,389.57 315.80,389.57"/><polygon points="314.42,396.79 310.62,390.20 318.22,390.20"/><polygon points="316.84,398.66 313.04,392.08 320.64,392.08"/><polygon points="319.26,401.71 315.46,395.13 323.06,395.13"/><polygon points="321.68,405.81 317.88,399.23 325.48,399.23"/><polygon points="324.10,410.80 320.30,404.22 327.90,404.22"/><polygon points="326.52,416.52 322.72,409.93 330.32,409.93"/><polygon points="328.94,422.75 325.14,416.17 332.74,416.17"/><polygon points="331.36,429.30 327.56,422.72 335.16,422.72"/><polygon points="333.78,435.97 329.98,429.39 337.58,429.39"/><polygon points="336.20,442.59 332.40,436.00 340.00,436.00"/><polygon points="338.62,448.98 334.82,442.40 342.42,442.40"/><polygon points="341.04,455.04 337.24,448.46 344.84,448.46"/><polygon points="343.47,460.64 339.67,454.06 347.27,454.06"/><polygon points="345.89,465.74 342.09,459.15 349.69,459.15"/><polygon points="348.31,470.27 344.51,463.69 352.11,463.69"/><polygon points="350.73,474.25 346.93,467.66 354.53,467.66"/><polygon points="353.15,477.66 349.35,471.08 356.95,471.08"/><polygon points="355.57,480.55 351.77,473.97 359.37,473.97"/><polygon points="357.99,482.95 354.19,476.37 361.79,476.37"/><polygon points="360.41,484.92 356.61,478.34 364.21,478.34"/><polygon points="362.83,486.50 359.03,479.92 366.63,479.92"/><polygon points="365.25,487.76 361.45,481.18 369.05,481.18"/><polygon points="367.67,488.74 363.87,482.16 371.47,482.16"/><polygon points="370.09,489.49 366.29,482.91 373.89,482.91"/><polygon points="372.51,490.06 368.71,483.48 376.31,483.48"/><polygon points="374.93,490.49 371.13,483.91 378.73,483.91"/><polygon points="377.35,490.80 373.55,484.22 381.15,484.22"/><polygon points="379.77,491.03 375.97,484.45 383.57,484.45"/><polygon points="382.19,491.19 378.39,484.61 385.99,484.61"/><polygon points="384.61,491.30 380.81,484.72 388.41,484.72"/><polygon points="387.03,491.38 383.23,484.80 390.83,484.80"/><polygon points="389.45,491.43 385.65,484.85 393.25,484.85"/><polygon points="391.87,491.47 388.07,484.89 395.67,484.89"/><polygon points="394.29,491.50 390.49,484.91 398.09,484.91"/><polygon points="396.71,491.51 392.91,484.93 400.51,484.93"/><polygon points="399.13,491.52 395.33,484.94 402.93,484.94"/></g>
<g fill="none" stroke="#0000ff" stroke-width="1.65" stroke-linejoin="miter"><polygon points="316.39,372.89 309.81,369.09 309.81,376.69"/><polygon points="318.40,373.64 311.82,369.84 311.82,377.44"/><polygon points="320.42,375.88 313.84,372.08 313.84,379.68"/><polygon points="322.44,379.52 315.86,375.72 315.86,383.32"/><polygon points="324.46,384.42 317.87,380.62 317.87,388.22"/><polygon points="326.47,390.38 319.89,386.58 319.89,394.18"/><polygon points="328.49,397.21 321.91,393.41 321.91,401.01"/><polygon points="330.51,404.65 323.93,400.85 323.93,408.45"/><polygon points="332.52,412.48 325.94,408.68 325.94,416.28"/><polygon points="334.54,420.46 327.96,416.66 327.96,424.26"/><polygon points="336.56,428.37 329.98,424.57 329.98,432.17"/><polygon points="338.57,436.03 331.99,432.23 331.99,439.83"/><polygon points="340.59,443.28 334.01,439.48 334.01,447.08"/><polygon points="342.61,450.00 336.03,446.20 336.03,453.80"/><polygon points="344.63,456.10 338.04,452.30 338.04,459.90"/><polygon points="346.64,461.54 340.06,457.74 340.06,465.34"/><polygon points="348.66,466.31 342.08,462.51 342.08,470.11"/><polygon points="350.68,470.42 344.10,466.62 344.10,474.22"/><polygon points="352.69,473.89 346.11,470.09 346.11,477.69"/><polygon points="354.71,476.78 348.13,472.98 348.13,480.58"/><polygon points="356.73,479.15 350.15,475.35 350.15,482.95"/><polygon points="358.74,481.06 352.16,477.26 352.16,484.86"/><polygon points="360.76,482.57 354.18,478.77 354.18,486.37"/><polygon points="362.78,483.76 356.20,479.96 356.20,487.56"/><polygon points="364.80,484.67 358.21,480.87 358.21,488.47"/><polygon points="366.81,485.36 360.23,481.56 360.23,489.16"/><polygon points="368.83,485.87 362.25,482.07 362.25,489.67"/><polygon points="370.85,486.25 364.27,482.45 364.27,490.05"/><polygon points="372.86,486.53 366.28,482.73 366.28,490.33"/><polygon points="374.88,486.72 368.30,482.92 368.30,490.52"/><polygon points="376.90,486.86 370.32,483.06 370.32,490.66"/><polygon points="378.91,486.96 372.33,483.16 372.33,490.76"/><polygon points="380.93,487.02 374.35,483.22 374.35,490.82"/><polygon points="382.95,487.07 376.37,483.27 376.37,490.87"/><polygon points="384.97,487.10 378.38,483.30 378.38,490.90"/><polygon points="386.98,487.12 380.40,483.32 380.40,490.92"/><polygon points="389.00,487.13 382.42,483.33 382.42,490.93"/><polygon points="391.02,487.14 384.44,483.34 384.44,490.94"/></g>
<g fill="none" stroke="#00ffff" stroke-width="1.65" stroke-linejoin="miter"><polygon points="307.61,352.02 314.19,348.22 314.19,355.82"/><polygon points="309.63,353.27 316.21,349.47 316.21,357.07"/><polygon points="311.65,356.95 318.23,353.15 318.23,360.75"/><polygon points="313.66,362.87 320.24,359.07 320.24,366.67"/><polygon points="315.68,370.70 322.26,366.90 322.26,374.50"/><polygon points="317.70,380.05 324.28,376.25 324.28,383.85"/><polygon points="319.71,390.46 326.30,386.66 326.30,394.26"/><polygon points="321.73,401.47 328.31,397.67 328.31,405.27"/><polygon points="323.75,412.62 330.33,408.82 330.33,416.42"/><polygon points="325.77,423.51 332.35,419.71 332.35,427.31"/><polygon points="327.78,433.82 334.36,430.02 334.36,437.62"/><polygon points="329.80,443.28 336.38,439.48 336.38,447.08"/><polygon points="331.82,451.72 338.40,447.92 338.40,455.52"/><polygon points="333.83,459.07 340.41,455.27 340.41,462.87"/><polygon points="335.85,465.30 342.43,461.50 342.43,469.10"/><polygon points="337.87,470.47 344.45,466.67 344.45,474.27"/><polygon points="339.88,474.64 346.47,470.84 346.47,478.44"/><polygon points="341.90,477.95 348.48,474.15 348.48,481.75"/><polygon points="343.92,480.50 350.50,476.70 350.50,484.30"/><polygon points="345.94,482.44 352.52,478.64 352.52,486.24"/><polygon points="347.95,483.87 354.53,480.07 354.53,487.67"/><polygon points="349.97,484.91 356.55,481.11 356.55,488.71"/><polygon points="351.99,485.65 358.57,481.85 358.57,489.45"/><polygon points="354.00,486.16 360.58,482.36 360.58,489.96"/><polygon points="356.02,486.51 362.60,482.71 362.60,490.31"/><polygon points="358.04,486.75 364.62,482.95 364.62,490.55"/><polygon points="360.05,486.90 366.64,483.10 366.64,490.70"/><polygon points="362.07,487.00 368.65,483.20 368.65,490.80"/><polygon points="364.09,487.06 370.67,483.26 370.67,490.86"/><polygon points="366.11,487.10 372.69,483.30 372.69,490.90"/><polygon points="368.12,487.12 374.70,483.32 374.70,490.92"/><polygon points="370.14,487.13 376.72,483.33 376.72,490.93"/><polygon points="372.16,487.14 378.74,483.34 378.74,490.94"/><polygon points="374.17,487.14 380.75,483.34 380.75,490.94"/></g>
<g fill="none" stroke="#008b00" stroke-width="1.65" stroke-linejoin="miter"><polygon points="312.00,332.23 308.20,338.81 315.80,338.81"/><polygon points="313.51,333.21 309.71,339.79 317.31,339.79"/><polygon points="315.03,336.09 311.23,342.67 318.83,342.67"/><polygon points="316.54,340.77 312.74,347.35 320.34,347.35"/><polygon points="318.05,347.08 314.25,353.66 321.85,353.66"/><polygon points="319.56,354.78 315.76,361.36 323.36,361.36"/><polygon points="321.08,363.59 317.28,370.18 324.88,370.18"/><polygon points="322.59,373.23 318.79,379.82 326.39,379.82"/><polygon points="324.10,383.39 320.30,389.98 327.90,389.98"/><polygon points="325.61,393.77 321.81,400.36 329.41,400.36"/><polygon points="327.13,404.10 323.33,410.68 330.93,410.68"/><polygon points="328.64,414.12 324.84,420.70 332.44,420.70"/><polygon points="330.15,423.64 326.35,430.22 333.95,430.22"/><polygon points="331.67,432.49 327.87,439.07 335.47,439.07"/><polygon points="333.18,440.57 329.38,447.15 336.98,447.15"/><polygon points="334.69,447.81 330.89,454.39 338.49,454.39"/><polygon points="336.20,454.18 332.40,460.76 340.00,460.76"/><polygon points="337.72,459.69 333.92,466.27 341.52,466.27"/><polygon points="339.23,464.38 335.43,470.96 343.03,470.96"/><polygon points="340.74,468.30 336.94,474.88 344.54,474.88"/><polygon points="342.25,471.54 338.45,478.12 346.06,478.12"/><polygon points="343.77,474.16 339.97,480.74 347.57,480.74"/><polygon points="345.28,476.25 341.48,482.83 349.08,482.83"/><polygon points="346.79,477.90 342.99,484.48 350.59,484.48"/><polygon points="348.31,479.18 344.51,485.76 352.11,485.76"/><polygon points="349.82,480.16 346.02,486.74 353.62,486.74"/><polygon points="351.33,480.89 347.53,487.47 355.13,487.47"/><polygon points="352.84,481.43 349.04,488.02 356.64,488.02"/><polygon points="354.36,481.83 350.56,488.41 358.16,488.41"/><polygon points="355.87,482.12 352.07,488.70 359.67,488.70"/><polygon points="357.38,482.32 353.58,488.91 361.18,488.91"/><polygon points="358.90,482.47 355.10,489.05 362.70,489.05"/><polygon points="360.41,482.57 356.61,489.15 364.21,489.15"/><polygon points="361.92,482.63 358.12,489.22 365.72,489.22"/><polygon points="363.43,482.68 359.63,489.26 367.23,489.26"/><polygon points="364.95,482.71 361.15,489.29 368.75,489.29"/><polygon points="366.46,482.73 362.66,489.31 370.26,489.31"/><polygon points="367.97,482.74 364.17,489.32 371.77,489.32"/><polygon points="369.48,482.75 365.68,489.33 373.28,489.33"/></g>
<g fill="none" stroke="#ffa500" stroke-width="1.65" stroke-linejoin="miter"><polygon points="308.28,317.74 312.00,314.02 315.72,317.74 312.00,321.47"/><polygon points="309.79,319.13 313.51,315.40 317.24,319.13 313.51,322.85"/><polygon points="311.30,323.22 315.03,319.50 318.75,323.22 315.03,326.94"/><polygon points="312.81,329.82 316.54,326.10 320.26,329.82 316.54,333.54"/><polygon points="314.33,338.62 318.05,334.89 321.77,338.62 318.05,342.34"/><polygon points="315.84,349.21 319.56,345.48 323.29,349.21 319.56,352.93"/><polygon points="317.35,361.13 321.08,357.41 324.80,361.13 321.08,364.86"/><polygon points="318.87,373.90 322.59,370.18 326.31,373.90 322.59,377.63"/><polygon points="320.38,387.04 324.10,383.32 327.83,387.04 324.10,390.76"/><polygon points="321.89,400.09 325.61,396.37 329.34,400.09 325.61,403.82"/><polygon points="323.40,412.68 327.13,408.96 330.85,412.68 327.13,416.41"/><polygon points="324.92,424.49 328.64,420.76 332.36,424.49 328.64,428.21"/><polygon points="326.43,435.28 330.15,431.56 333.88,435.28 330.15,439.01"/><polygon points="327.94,444.92 331.67,441.19 335.39,444.92 331.67,448.64"/><polygon points="329.45,453.32 333.18,449.60 336.90,453.32 333.18,457.05"/><polygon points="330.97,460.50 334.69,456.77 338.42,460.50 334.69,464.22"/><polygon points="332.48,466.49 336.20,462.77 339.93,466.49 336.20,470.22"/><polygon points="333.99,471.40 337.72,467.68 341.44,471.40 337.72,475.12"/><polygon points="335.51,475.34 339.23,471.61 342.95,475.34 339.23,479.06"/><polygon points="337.02,478.43 340.74,474.71 344.47,478.43 340.74,482.16"/><polygon points="338.53,480.82 342.25,477.10 345.98,480.82 342.25,484.55"/><polygon points="340.04,482.63 343.77,478.91 347.49,482.63 343.77,486.36"/><polygon points="341.56,483.98 345.28,480.25 349.00,483.98 345.28,487.70"/><polygon points="343.07,484.96 346.79,481.24 350.52,484.96 346.79,488.68"/><polygon points="344.58,485.66 348.31,481.94 352.03,485.66 348.31,489.39"/><polygon points="346.09,486.15 349.82,482.43 353.54,486.15 349.82,489.88"/><polygon points="347.61,486.50 351.33,482.77 355.06,486.50 351.33,490.22"/><polygon points="349.12,486.73 352.84,483.00 356.57,486.73 352.84,490.45"/><polygon points="350.63,486.88 354.36,483.16 358.08,486.88 354.36,490.60"/><polygon points="352.15,486.98 355.87,483.26 359.59,486.98 355.87,490.71"/><polygon points="353.66,487.05 357.38,483.32 361.11,487.05 357.38,490.77"/><polygon points="355.17,487.09 358.90,483.36 362.62,487.09 358.90,490.81"/><polygon points="356.68,487.11 360.41,483.39 364.13,487.11 360.41,490.84"/><polygon points="358.20,487.13 361.92,483.40 365.64,487.13 361.92,490.85"/><polygon points="359.71,487.14 363.43,483.41 367.16,487.14 363.43,490.86"/><polygon points="361.22,487.14 364.95,483.42 368.67,487.14 364.95,490.87"/></g>
<g fill="none" stroke="#ff0000" stroke-width="1.65" stroke-linejoin="miter"><circle cx="312.45" cy="306.47" r="2.72" stroke-width="1.6"/><circle cx="313.36" cy="307.68" r="2.72" stroke-width="1.6"/><circle cx="314.27" cy="310.09" r="2.72" stroke-width="1.6"/><circle cx="315.18" cy="313.63" r="2.72" stroke-width="1.6"/><circle cx="316.08" cy="318.25" r="2.72" stroke-width="1.6"/><circle cx="316.99" cy="323.85" r="2.72" stroke-width="1.6"/><circle cx="317.90" cy="330.32" r="2.72" stroke-width="1.6"/><circle cx="318.81" cy="337.55" r="2.72" stroke-width="1.6"/><circle cx="319.72" cy="345.41" r="2.72" stroke-width="1.6"/><circle cx="320.62" cy="353.76" r="2.72" stroke-width="1.6"/><circle cx="321.53" cy="362.46" r="2.72" stroke-width="1.6"/><circle cx="322.44" cy="371.37" r="2.72" stroke-width="1.6"/><circle cx="323.35" cy="380.37" r="2.72" stroke-width="1.6"/><circle cx="324.25" cy="389.33" r="2.72" stroke-width="1.6"/><circle cx="325.16" cy="398.14" r="2.72" stroke-width="1.6"/><circle cx="326.07" cy="406.71" r="2.72" stroke-width="1.6"/><circle cx="326.98" cy="414.93" r="2.72" stroke-width="1.6"/><circle cx="327.88" cy="422.76" r="2.72" stroke-width="1.6"/><circle cx="328.79" cy="430.12" r="2.72" stroke-width="1.6"/><circle cx="329.70" cy="436.97" r="2.72" stroke-width="1.6"/><circle cx="330.61" cy="443.30" r="2.72" stroke-width="1.6"/><circle cx="331.51" cy="449.09" r="2.72" stroke-width="1.6"/><circle cx="332.42" cy="454.34" r="2.72" stroke-width="1.6"/><circle cx="333.33" cy="459.05" r="2.72" stroke-width="1.6"/><circle cx="334.24" cy="463.25" r="2.72" stroke-width="1.6"/><circle cx="335.15" cy="466.96" r="2.72" stroke-width="1.6"/><circle cx="336.05" cy="470.21" r="2.72" stroke-width="1.6"/><circle cx="336.96" cy="473.03" r="2.72" stroke-width="1.6"/><circle cx="337.87" cy="475.46" r="2.72" stroke-width="1.6"/><circle cx="338.78" cy="477.53" r="2.72" stroke-width="1.6"/><circle cx="339.68" cy="479.30" r="2.72" stroke-width="1.6"/><circle cx="340.59" cy="480.78" r="2.72" stroke-width="1.6"/><circle cx="341.50" cy="482.01" r="2.72" stroke-width="1.6"/><circle cx="342.41" cy="483.04" r="2.72" stroke-width="1.6"/><circle cx="343.31" cy="483.88" r="2.72" stroke-width="1.6"/><circle cx="344.22" cy="484.57" r="2.72" stroke-width="1.6"/><circle cx="345.13" cy="485.12" r="2.72" stroke-width="1.6"/><circle cx="346.04" cy="485.57" r="2.72" stroke-width="1.6"/><circle cx="346.94" cy="485.93" r="2.72" stroke-width="1.6"/><circle cx="347.85" cy="486.21" r="2.72" stroke-width="1.6"/><circle cx="348.76" cy="486.43" r="2.72" stroke-width="1.6"/><circle cx="349.67" cy="486.61" r="2.72" stroke-width="1.6"/><circle cx="350.58" cy="486.74" r="2.72" stroke-width="1.6"/><circle cx="351.48" cy="486.84" r="2.72" stroke-width="1.6"/><circle cx="352.39" cy="486.92" r="2.72" stroke-width="1.6"/><circle cx="353.30" cy="486.98" r="2.72" stroke-width="1.6"/><circle cx="354.21" cy="487.03" r="2.72" stroke-width="1.6"/><circle cx="355.11" cy="487.06" r="2.72" stroke-width="1.6"/><circle cx="356.02" cy="487.08" r="2.72" stroke-width="1.6"/><circle cx="356.93" cy="487.10" r="2.72" stroke-width="1.6"/><circle cx="357.84" cy="487.12" r="2.72" stroke-width="1.6"/><circle cx="358.74" cy="487.13" r="2.72" stroke-width="1.6"/><circle cx="359.65" cy="487.13" r="2.72" stroke-width="1.6"/><circle cx="360.56" cy="487.14" r="2.72" stroke-width="1.6"/><circle cx="361.47" cy="487.14" r="2.72" stroke-width="1.6"/><circle cx="362.37" cy="487.14" r="2.72" stroke-width="1.6"/></g>
<path d="M337.21,499.10v-5.0M337.21,226.30v5.0M362.43,499.10v-5.0M362.43,226.30v5.0M387.64,499.10v-5.0M387.64,226.30v5.0M412.85,499.10v-9.8M412.85,226.30v9.8M438.06,499.10v-5.0M438.06,226.30v5.0M463.28,499.10v-5.0M463.28,226.30v5.0M488.49,499.10v-5.0M488.49,226.30v5.0M312.00,487.15h9.8M513.70,487.15h-9.8M312.00,474.73h5.0M513.70,474.73h-5.0M312.00,462.31h5.0M513.70,462.31h-5.0M312.00,449.89h5.0M513.70,449.89h-5.0M312.00,437.47h9.8M513.70,437.47h-9.8M312.00,425.05h5.0M513.70,425.05h-5.0M312.00,412.63h5.0M513.70,412.63h-5.0M312.00,400.21h5.0M513.70,400.21h-5.0M312.00,387.79h9.8M513.70,387.79h-9.8M312.00,375.37h5.0M513.70,375.37h-5.0M312.00,362.95h5.0M513.70,362.95h-5.0M312.00,350.53h5.0M513.70,350.53h-5.0M312.00,338.11h9.8M513.70,338.11h-9.8M312.00,325.69h5.0M513.70,325.69h-5.0M312.00,313.27h5.0M513.70,313.27h-5.0M312.00,300.85h5.0M513.70,300.85h-5.0M312.00,288.43h9.8M513.70,288.43h-9.8M312.00,276.01h5.0M513.70,276.01h-5.0M312.00,263.59h5.0M513.70,263.59h-5.0M312.00,251.17h5.0M513.70,251.17h-5.0M312.00,238.75h9.8M513.70,238.75h-9.8" stroke="#000" stroke-width="1.5" fill="none"/>
<rect x="312.00" y="226.30" width="201.70" height="272.80" fill="none" stroke="#000" stroke-width="1.5"/>
<g font-family="'Liberation Serif', serif" font-size="15.1" fill="#000">
<text x="312.00" y="517.50" text-anchor="middle">0</text>
<text x="412.85" y="517.50" text-anchor="middle">200</text>
<text x="513.70" y="517.50" text-anchor="middle">400</text>
<text x="304.00" y="492.45" text-anchor="end">0</text>
<text x="304.00" y="442.77" text-anchor="end" textLength="25.3" lengthAdjust="spacingAndGlyphs">0.01</text>
<text x="304.00" y="393.09" text-anchor="end" textLength="25.3" lengthAdjust="spacingAndGlyphs">0.02</text>
<text x="304.00" y="343.41" text-anchor="end" textLength="25.3" lengthAdjust="spacingAndGlyphs">0.03</text>
<text x="304.00" y="293.73" text-anchor="end" textLength="25.3" lengthAdjust="spacingAndGlyphs">0.04</text>
<text x="304.00" y="244.05" text-anchor="end" textLength="25.3" lengthAdjust="spacingAndGlyphs">0.05</text>
</g>
<g font-family="'Liberation Serif', serif" font-size="16.6" fill="#000" text-anchor="middle">
<text x="158.4" y="55.8">(a) 50 units</text>
<text x="405" y="55.8">(b) 120 units</text>
<text x="158.4" y="276">(c) 50 units</text>
<text x="405" y="276">(d) 120 units</text>
</g>
<text transform="translate(0,214.3)" font-family="'Liberation Serif', serif" font-size="15.7" fill="#000"><tspan x="151.50" y="0" font-style="italic">r</tspan><tspan x="156.50" y="6.3" font-style="italic" font-size="11.3">x </tspan><tspan x="170.20" y="0">(</tspan><tspan x="174.90" y="0">Å</tspan><tspan x="187.40" y="0">)</tspan></text>
<text transform="translate(0,214.3)" font-family="'Liberation Serif', serif" font-size="15.7" fill="#000"><tspan x="393.30" y="0" font-style="italic">r</tspan><tspan x="398.30" y="6.3" font-style="italic" font-size="11.3">x </tspan><tspan x="412.00" y="0">(</tspan><tspan x="416.70" y="0">Å</tspan><tspan x="429.20" y="0">)</tspan></text>
<text transform="translate(0,535.2)" font-family="'Liberation Serif', serif" font-size="15.7" fill="#000"><tspan x="135.20" y="0" font-style="italic">r</tspan><tspan x="140.80" y="6.3" font-style="italic" font-size="11.3">y </tspan><tspan x="149.80" y="0">or </tspan><tspan x="167.00" y="0" font-style="italic">r</tspan><tspan x="173.00" y="6.3" font-style="italic" font-size="11.3">z </tspan><tspan x="185.20" y="0">(</tspan><tspan x="189.70" y="0">Å</tspan><tspan x="202.00" y="0">)</tspan></text>
<text transform="translate(0,535.2)" font-family="'Liberation Serif', serif" font-size="15.7" fill="#000"><tspan x="377.00" y="0" font-style="italic">r</tspan><tspan x="382.60" y="6.3" font-style="italic" font-size="11.3">y </tspan><tspan x="391.60" y="0">or </tspan><tspan x="408.80" y="0" font-style="italic">r</tspan><tspan x="414.80" y="6.3" font-style="italic" font-size="11.3">z </tspan><tspan x="427.00" y="0">(</tspan><tspan x="431.50" y="0">Å</tspan><tspan x="443.80" y="0">)</tspan></text>
<text transform="translate(27.0,200) rotate(-90)" font-family="'Liberation Serif', serif" font-size="15.7" fill="#000"><tspan x="67.40" y="0" font-style="italic" textLength="8.4" lengthAdjust="spacingAndGlyphs">P</tspan><tspan x="77.70" y="0">(</tspan><tspan x="82.60" y="0" font-style="italic">r</tspan><tspan x="87.80" y="6.3" font-style="italic" font-size="11.3">x</tspan><tspan x="93.10" y="0">) </tspan><tspan x="107.10" y="0">(</tspan><tspan x="111.60" y="0">Å</tspan><tspan x="123.00" y="-9.4" font-size="11.3">−</tspan><tspan x="128.40" y="-9.4" font-size="11.3">1</tspan><tspan x="134.50" y="0">)</tspan></text>
<text transform="translate(26.1,500.2) rotate(-90)" font-family="'Liberation Serif', serif" font-size="15.7" fill="#000"><tspan x="73.20" y="0" font-style="italic" textLength="8.4" lengthAdjust="spacingAndGlyphs">P</tspan><tspan x="82.30" y="0">(</tspan><tspan x="86.80" y="0" font-style="italic">r</tspan><tspan x="93.20" y="6.3" font-style="italic" font-size="11.3">y</tspan><tspan x="101.80" y="0">) </tspan><tspan x="111.20" y="0">or </tspan><tspan x="128.60" y="0" font-style="italic" textLength="8.4" lengthAdjust="spacingAndGlyphs">P</tspan><tspan x="137.70" y="0">(</tspan><tspan x="142.70" y="0" font-style="italic">r</tspan><tspan x="149.10" y="6.3" font-style="italic" font-size="11.3">z</tspan><tspan x="155.50" y="0">) </tspan><tspan x="170.30" y="0">(</tspan><tspan x="174.60" y="0">Å</tspan><tspan x="186.10" y="-9.4" font-size="11.3">−</tspan><tspan x="192.10" y="-9.4" font-size="11.3">1</tspan><tspan x="197.70" y="0">)</tspan></text>
</svg>
</body></html>
